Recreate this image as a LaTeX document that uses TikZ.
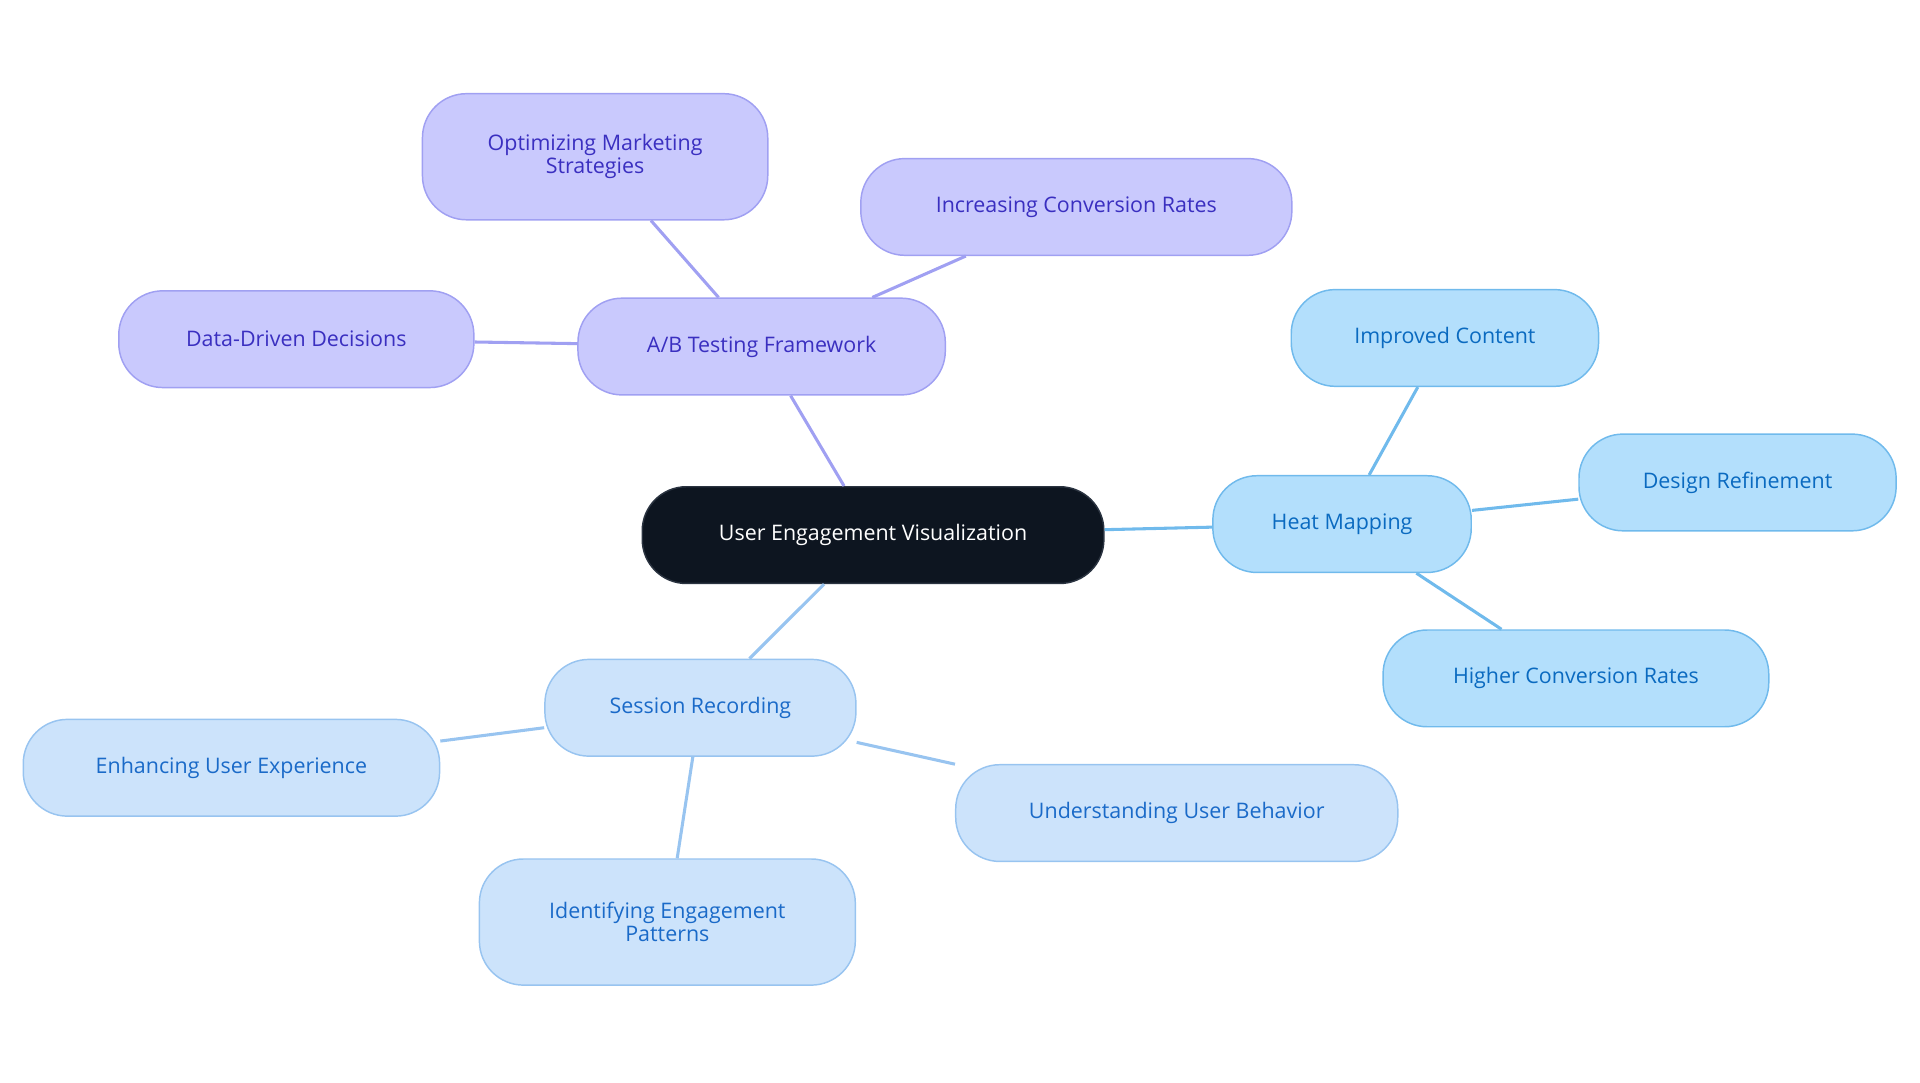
\documentclass[tikz,border=0pt]{standalone}
\usepackage{fontspec}
\setmainfont{Open Sans}
\begin{document}
\begin{tikzpicture}[x=1pt,y=-1pt,
 base/.style={rounded corners=36pt,draw,line width=1.2pt,align=center,font=\fontsize{17.5}{19}\selectfont,inner sep=0pt},
 root/.style={base,fill=cblack,draw=cblackb,text=white},
 ab/.style={base,fill=cpurp,draw=cpurpb,text=cpurpt},
 hm/.style={base,fill=cheat,draw=cheatb,text=cheatt},
 sr/.style={base,fill=csess,draw=csessb,text=csesst},
 eab/.style={draw=cpurpb,line width=2.5pt},
 ehm/.style={draw=cheatb,line width=2.5pt},
 esr/.style={draw=csessb,line width=2.5pt}]
\definecolor{cblack}{HTML}{0D1520}\definecolor{cblackb}{HTML}{2A3340}
\definecolor{cpurp}{HTML}{C9C9FD}\definecolor{cpurpb}{HTML}{A0A0F2}\definecolor{cpurpt}{HTML}{3A2FC0}
\definecolor{cheat}{HTML}{B3DFFC}\definecolor{cheatb}{HTML}{70BAEC}\definecolor{cheatt}{HTML}{0A6AC0}
\definecolor{csess}{HTML}{CCE3FB}\definecolor{csessb}{HTML}{98C4F0}\definecolor{csesst}{HTML}{1A6AC8}
\useasboundingbox (0,0) rectangle (1568,884);
\node[root,minimum width=377pt,minimum height=79pt] (c) at (713,437) {User Engagement Visualization};
\node[ab,minimum width=300pt,minimum height=79pt] (ab) at (622,283) {A/B Testing Framework};
\node[ab,minimum width=282pt,minimum height=103pt] (ab1) at (486,128) {Optimizing Marketing\\Strategies};
\node[ab,minimum width=352pt,minimum height=79pt] (ab2) at (879,169) {Increasing Conversion Rates};
\node[ab,minimum width=290pt,minimum height=79pt] (ab3) at (242,277) {Data-Driven Decisions};
\node[hm,minimum width=211pt,minimum height=79pt] (hm) at (1096,428) {Heat Mapping};
\node[hm,minimum width=251pt,minimum height=79pt] (hm1) at (1180,276) {Improved Content};
\node[hm,minimum width=259pt,minimum height=79pt] (hm2) at (1419,394) {Design Refinement};
\node[hm,minimum width=315pt,minimum height=79pt] (hm3) at (1287,554) {Higher Conversion Rates};
\node[sr,minimum width=254pt,minimum height=79pt] (sr) at (572,578) {Session Recording};
\node[sr,minimum width=340pt,minimum height=79pt] (sr1) at (189,627) {Enhancing User Experience};
\node[sr,minimum width=307pt,minimum height=103pt] (sr2) at (545,753) {Identifying Engagement\\Patterns};
\node[sr,minimum width=361pt,minimum height=79pt] (sr3) at (961,664) {Understanding User Behavior};
\draw[eab] (c) -- (ab); \draw[eab] (ab) -- (ab1); \draw[eab] (ab) -- (ab2); \draw[eab] (ab) -- (ab3);
\draw[ehm] (c) -- (hm); \draw[ehm] (hm) -- (hm1); \draw[ehm] (hm) -- (hm2); \draw[ehm] (hm) -- (hm3);
\draw[esr] (c) -- (sr); \draw[esr] (sr) -- (sr1); \draw[esr] (sr) -- (sr2); \draw[esr] (sr) -- (sr3);
\end{tikzpicture}
\end{document}
